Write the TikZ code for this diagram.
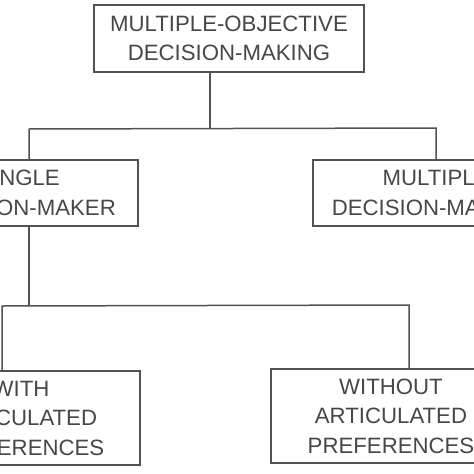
\documentclass[tikz,border=0pt]{standalone}
\usepackage{fontspec}
\setmainfont{Liberation Sans}
\begin{document}
\begin{tikzpicture}[x=1pt,y=-1pt,
  box/.style={draw=black!68, line width=1.5pt, text=black!72, inner sep=0pt,
    align=center, font={\fontsize{22.2pt}{29.5pt}\selectfont}},
  link/.style={draw=black!68, line width=1.5pt}]
\useasboundingbox (0,0) rectangle (474,474);
\clip (0,0) rectangle (474,474);
\fill[white] (0,0) rectangle (474,474);
% boxes
\node[box, minimum width=270pt, minimum height=67pt] (top) at (229,38.5)
  {MULTIPLE-OBJECTIVE\\DECISION-MAKING};
\node[box, minimum width=238pt, minimum height=66pt] (ml) at (19,193)
  {SINGLE\\DECISION-MAKER};
\node[box, minimum width=246pt, minimum height=66pt] (mr) at (436,193)
  {MULTIPLE\\DECISION-MAKERS};
\node[box, minimum width=238pt, minimum height=94pt] (bl) at (21,418)
  {WITH\\ARTICULATED\\PREFERENCES};
\node[box, minimum width=240pt, minimum height=94pt] (br) at (391,416)
  {WITHOUT\\ARTICULATED\\PREFERENCES};
% junction points
\coordinate (c) at (210,128);
\coordinate (a) at (29,129);
\coordinate (b) at (436,128);
\coordinate (d) at (29,306);
\coordinate (e) at (2,306);
\coordinate (f) at (409,305);
% connectors
\draw[link] (top.south -| c) -- (c);
\draw[link] (ml.north -| a) -- (a) -- (b) -- (mr.north -| b);
\draw[link] (ml.south -| d) -- (d);
\draw[link] (bl.north -| e) -- (e) -- (f) -- (br.north -| f);
\end{tikzpicture}
\end{document}
